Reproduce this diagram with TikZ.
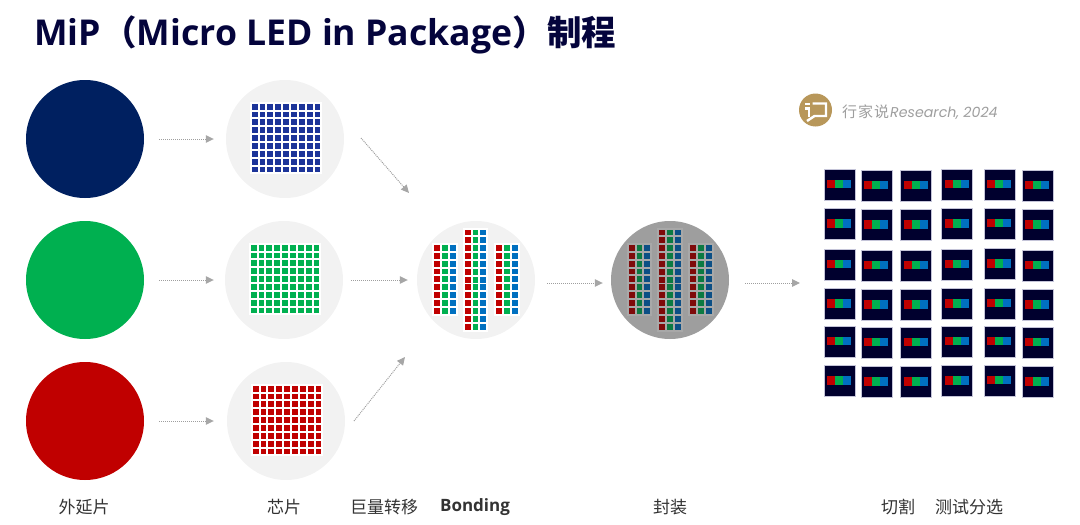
\documentclass[tikz,border=0pt]{standalone}
\usepackage{fontspec}
\setmainfont{Open Sans}
\newfontfamily\cjk{Noto Sans CJK SC}
\newfontfamily\markfont{Poppins}
\usepackage{tikz}
\usetikzlibrary{arrows.meta}
\definecolor{titleNavy}{HTML}{04043C}
\definecolor{navyWafer}{HTML}{002060}
\definecolor{greenWafer}{HTML}{00B050}
\definecolor{redWafer}{HTML}{C00000}
\definecolor{blueChip}{HTML}{1C3499}
\definecolor{blueMix}{HTML}{0070C0}
\definecolor{discGray}{HTML}{F2F2F2}
\definecolor{sealGray}{HTML}{9E9E9E}
\definecolor{sealRed}{HTML}{7F0A0A}
\definecolor{sealGreen}{HTML}{0C7A42}
\definecolor{sealBlue}{HTML}{0C4F85}
\definecolor{dieNavy}{HTML}{00002E}
\definecolor{dieEdge}{HTML}{C4C4D8}
\definecolor{logoGold}{HTML}{B8975A}
\tikzset{
  disc/.style={circle,inner sep=0pt,minimum size=118pt},
  flow/.style={densely dotted,draw=black!38,line width=1pt,-{Triangle[length=8pt,width=7.5pt,color=black!35]}},
  caption/.style={text=black!80,font=\fontsize{17}{20}\selectfont\cjk,inner sep=0pt},
}
% 9 x 9 block of one colour
\newcommand{\chipgrid}[3]{
  \fill[white] (#1-1.7,#2-1.7) rectangle ++(72,72);
  \foreach \i in {0,...,8} \foreach \j in {0,...,8}
    \fill[#3] (#1+\i*7.85,#2+\j*7.85) rectangle ++(5.9,5.9);
}
% one rgb column group: x, y, rows, bg, red, green, blue
\newcommand{\mixgroup}[7]{
  \fill[#4] (#1-1.7,#2-1.7) rectangle ++(25.3,{#3*7.85+1.8});
  \foreach \j in {1,...,#3} {
    \fill[#5] (#1,#2+\j*7.85-7.85) rectangle ++(5.9,5.9);
    \fill[#6] (#1+7.85,#2+\j*7.85-7.85) rectangle ++(5.9,5.9);
    \fill[#7] (#1+15.7,#2+\j*7.85-7.85) rectangle ++(5.9,5.9);
  }
}
\begin{document}
\begin{tikzpicture}[x=1pt,y=-1pt]
  \useasboundingbox (0,0) rectangle (1080,525);
  \node[anchor=west,inner sep=0pt,text=titleNavy,font=\fontsize{35.6}{40}\selectfont\bfseries] (title) at (34,34.5)
    {MiP\hspace{1.5pt}{\fontsize{34.5}{40}\selectfont\cjk （}Micro LED in Package{\fontsize{34.5}{40}\selectfont\cjk ）制程}};
  % wafers
  \node[disc,fill=navyWafer] (waferBlue) at (85,139) {};
  \node[disc,fill=greenWafer] (waferGreen) at (85,280) {};
  \node[disc,fill=redWafer] (waferRed) at (85,421) {};
  % chips
  \node[disc,fill=discGray] (chipBlue) at (285,139) {};
  \node[disc,fill=discGray] (chipGreen) at (284,280) {};
  \node[disc,fill=discGray] (chipRed) at (286,421) {};
  \chipgrid{251.7}{103.7}{blueChip}
  \chipgrid{250.7}{244.7}{greenWafer}
  \chipgrid{252.7}{385.7}{redWafer}
  % bonding
  \node[disc,fill=discGray] (bonding) at (476,280) {};
  \mixgroup{434}{245}{9}{white}{redWafer}{greenWafer}{blueMix}
  \mixgroup{464.7}{229.5}{13}{white}{redWafer}{greenWafer}{blueMix}
  \mixgroup{496}{245}{9}{white}{redWafer}{greenWafer}{blueMix}
  % package
  \node[disc,fill=sealGray] (package) at (670,280) {};
  \mixgroup{628.7}{245}{9}{sealGray!90!white}{sealRed}{sealGreen}{sealBlue}
  \mixgroup{659}{229.5}{13}{sealGray!90!white}{sealRed}{sealGreen}{sealBlue}
  \mixgroup{690}{245}{9}{sealGray!90!white}{sealRed}{sealGreen}{sealBlue}
  % diced dies
  \foreach \x/\dy in {824/0,861/1,900.5/1,941.7/0,984/-0.5,1022/1}
    \foreach \y in {169.3,208.7,249,288.7,326.3,365.7} {
      \fill[dieNavy,draw=dieEdge,line width=0.6pt] (\x,\y+\dy) rectangle ++(31,31);
      \fill[redWafer] (\x+3.3,\y+\dy+10.7) rectangle ++(8,8.3);
      \fill[greenWafer] (\x+11.3,\y+\dy+10.7) rectangle ++(8,8.3);
      \fill[blueMix] (\x+19.3,\y+\dy+10.7) rectangle ++(8,8.3);
    }
  % free ends
  \coordinate (fromBlue) at (361,138);
  \coordinate (toBondTop) at (409,193);
  \coordinate (fromRed) at (354,421);
  \coordinate (toBondLow) at (405,357);
  \coordinate (fromPackage) at (745,283);
  \coordinate (toDies) at (800,283);
  \draw[flow,shorten <=15pt,shorten >=12pt] (waferBlue) -- (chipBlue);
  \draw[flow,shorten <=15pt,shorten >=11pt] (waferGreen) -- (chipGreen);
  \draw[flow,shorten <=15pt,shorten >=13pt] (waferRed) -- (chipRed);
  \draw[flow,shorten <=8pt,shorten >=9pt] (chipGreen) -- (bonding);
  \draw[flow,shorten <=12pt,shorten >=8pt] ([yshift=-3pt]bonding.east) -- ([yshift=-3pt]package.west);
  \draw[flow] (fromBlue) -- (toBondTop);
  \draw[flow] (fromRed) -- (toBondLow);
  \draw[flow] (fromPackage) -- (toDies);
  % watermark
  \node[circle,fill=logoGold,inner sep=0pt,minimum size=33pt] (logo) at (815.5,110) {};
  \fill[white] (805,102.5) rectangle (810,105);
  \draw[white,line width=2.4pt] (805,108.5) -- (809,108.5) -- (809,117);
  \draw[white,line width=2.4pt] (812.5,103.5) -- (826,103.5) -- (826,116) -- (814.5,116) -- (807,121);
  \node[anchor=west,inner sep=0pt,text=black!38,font=\fontsize{15}{18}\selectfont] (mark) at (842,112.5)
    {{\cjk 行\hspace{1pt}家\hspace{1pt}说\hspace{1pt}}{\markfont\fontsize{14.2}{18}\selectfont\itshape Research, 2024}};
  % captions
  \node[caption] (capWafer) at (84,507) {外延片};
  \node[caption] (capChip) at (284,507) {芯片};
  \node[caption] (capTransfer) at (384,507) {巨量转移};
  \node[caption,font=\fontsize{17}{20}\selectfont\bfseries] (capBonding) at (475,507) {Bonding};
  \node[caption] (capPackage) at (670,507) {封装};
  \node[caption] (capDice) at (898,507) {切割};
  \node[caption] (capTest) at (969,507) {测试分选};
\end{tikzpicture}
\end{document}
